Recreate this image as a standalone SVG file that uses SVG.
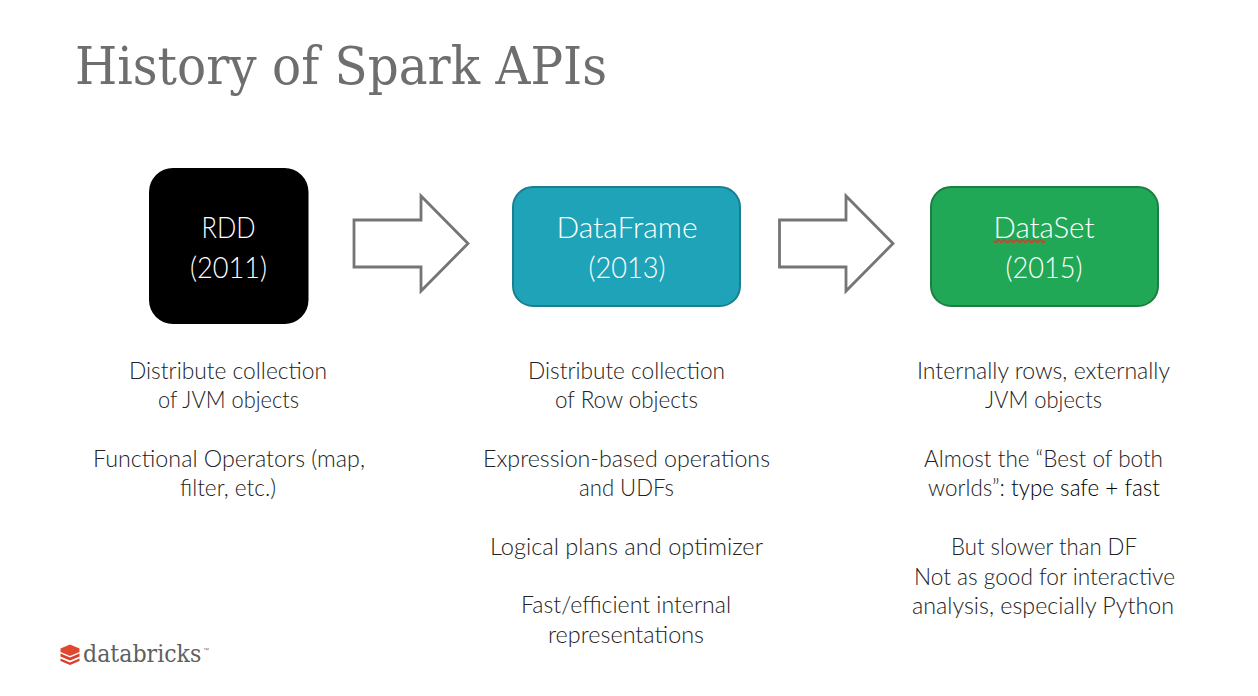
<svg xmlns="http://www.w3.org/2000/svg" width="1258" height="696" viewBox="0 0 1258 696">
<style>
text{font-family:"Lato","Open Sans","Liberation Sans",sans-serif}
.t{font-size:24px;font-weight:300;fill:#222;text-anchor:middle}
.n{font-size:30px;font-weight:300;fill:#fff;text-anchor:middle}
.title{font-family:"DejaVu Serif","Liberation Serif",serif;font-size:52px;fill:#6e6e6e}
.arrow{fill:#fff;stroke:#757575;stroke-width:2.800}
</style>
<rect width="1258" height="696" fill="#fff"/>
<text class="title" x="75" y="83.500" textLength="532" lengthAdjust="spacingAndGlyphs">History of Spark APIs</text>
<g id="connectors">
<polygon class="arrow" points="354,220 421,220 421,196 468,243.500 421,291 421,267 354,267"/>
<polygon class="arrow" points="779.500,220 846,220 846,196 893,243.500 846,291 846,267 779.500,267"/>
</g>
<g id="rdd">
<rect x="149" y="168" width="159.500" height="156" rx="24" fill="#000"/>
<text class="n" x="228.500" y="238" textLength="54" lengthAdjust="spacingAndGlyphs">RDD</text>
<text class="n" x="228.500" y="278" textLength="77" lengthAdjust="spacingAndGlyphs">(2011)</text>
</g>
<g id="dataframe">
<rect x="513" y="187" width="227" height="119" rx="20" fill="#1fa3b8" stroke="#1c7f90" stroke-width="2"/>
<text class="n" x="627" y="238" textLength="141" lengthAdjust="spacingAndGlyphs">DataFrame</text>
<text class="n" x="627" y="278" textLength="77" lengthAdjust="spacingAndGlyphs">(2013)</text>
</g>
<g id="dataset">
<rect x="931" y="187" width="227" height="119" rx="20" fill="#21a857" stroke="#1b7f43" stroke-width="2"/>
<text class="n" x="1044" y="238" textLength="101" lengthAdjust="spacingAndGlyphs">DataSet</text>
<path d="M994 241q1.500 2.500 3 0t3 0 3 0 3 0 3 0 3 0 3 0 3 0 3 0 3 0 3 0 3 0 3 0 3 0 3 0 3 0 3 0" fill="none" stroke="#e0362c" stroke-width="1.500"/>
<text class="n" x="1044" y="278" textLength="77" lengthAdjust="spacingAndGlyphs">(2015)</text>
</g>
<g id="rdd-notes">
<text class="t" x="228" y="379" textLength="198" lengthAdjust="spacingAndGlyphs">Distribute collection</text>
<text class="t" x="228.500" y="408" textLength="141" lengthAdjust="spacingAndGlyphs">of JVM objects</text>
<text class="t" x="229" y="467" textLength="272" lengthAdjust="spacingAndGlyphs">Functional Operators (map,</text>
<text class="t" x="228" y="496" textLength="96" lengthAdjust="spacingAndGlyphs">filter, etc.)</text>
</g>
<g id="dataframe-notes">
<text class="t" x="626.500" y="379" textLength="197" lengthAdjust="spacingAndGlyphs">Distribute collection</text>
<text class="t" x="626.500" y="408" textLength="143" lengthAdjust="spacingAndGlyphs">of Row objects</text>
<text class="t" x="626.500" y="467" textLength="287" lengthAdjust="spacingAndGlyphs">Expression-based operations</text>
<text class="t" x="626.500" y="496" textLength="95" lengthAdjust="spacingAndGlyphs">and UDFs</text>
<text class="t" x="626.500" y="555" textLength="273" lengthAdjust="spacingAndGlyphs">Logical plans and optimizer</text>
<text class="t" x="626" y="613" textLength="210" lengthAdjust="spacingAndGlyphs">Fast/efficient internal</text>
<text class="t" x="626" y="643" textLength="156" lengthAdjust="spacingAndGlyphs">representations</text>
</g>
<g id="dataset-notes">
<text class="t" x="1043.500" y="379" textLength="253" lengthAdjust="spacingAndGlyphs">Internally rows, externally</text>
<text class="t" x="1043.500" y="408" textLength="117" lengthAdjust="spacingAndGlyphs">JVM objects</text>
<text class="t" x="1043.500" y="467" textLength="239" lengthAdjust="spacingAndGlyphs">Almost the “Best of both</text>
<text class="t" x="1044" y="496" textLength="232" lengthAdjust="spacingAndGlyphs">worlds”: <tspan fill="#000">type safe + fast</tspan></text>
<text class="t" x="1044" y="555" textLength="186" lengthAdjust="spacingAndGlyphs">But slower than DF</text>
<text class="t" x="1044.500" y="585" textLength="261" lengthAdjust="spacingAndGlyphs">Not as good for interactive</text>
<text class="t" x="1043" y="614" textLength="262" lengthAdjust="spacingAndGlyphs">analysis, especially Python</text>
</g>
<g id="logo">
<path d="M70 644.500l9.500 4v3.500l-9.500 4-9.500-4v-3.500z" fill="#e0492f"/>
<path d="M60.500 653.500l9.500 4 9.500-4v3l-9.500 4-9.500-4z" fill="#d93f27"/>
<path d="M60.500 658.500l9.500 4 9.500-4v2.500l-9.500 4-9.500-4z" fill="#d93f27"/>
<text transform="translate(83 661.500) scale(.885 1)" style="font-family:'DejaVu Serif',serif;font-size:25px;fill:#5f5f5f">databricks</text>
<text x="203" y="652" style="font-family:'Liberation Sans',sans-serif;font-size:6px;fill:#777">™</text>
</g>
</svg>
